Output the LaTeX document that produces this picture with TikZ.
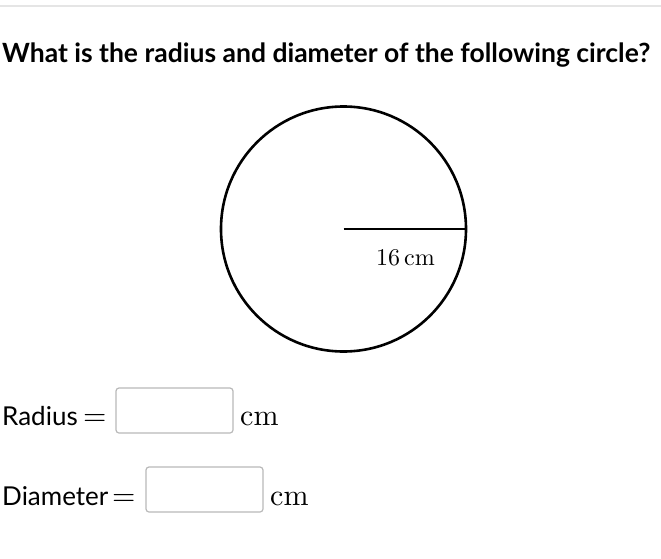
\documentclass[tikz,border=0pt]{standalone}
\usepackage{fontspec}
\newfontfamily\lato{Lato}
\newfontfamily\cmten{lmroman10-regular.otf}
\usetikzlibrary{positioning}

\tikzset{answerbox/.style={draw=gray!55, line width=1.2pt, rounded corners=3pt,
    minimum width=117pt, minimum height=45pt, inner sep=0pt},
  rowlabel/.style={anchor=base west, inner sep=0pt, font=\lato\fontsize{26}{31}\selectfont},
  rowmath/.style={anchor=base west, inner sep=0pt, font=\cmten\fontsize{30}{35}\selectfont}}

\begin{document}
\begin{tikzpicture}[x=1pt,y=-1pt]
\useasboundingbox (0,0) rectangle (661,559);
\draw[line width=2pt,gray!20] (0,6) -- (661,6);
\node[anchor=base west,inner sep=0pt,font=\lato\bfseries\fontsize{26.5}{31}\selectfont] (question) at (2,63)
  {What is the radius and diameter of the following circle?};
% circle and radius
\coordinate (centre) at (343.5,229);
\coordinate (edge) at (466,229);
\draw[line width=2.6pt] (centre) circle (122.5pt);
\draw[line width=2.6pt] (centre) -- (edge);
\node[font=\cmten\fontsize{24}{29}\selectfont] (len) at (405.5,258) {16\,cm};
% answer rows
\node[rowlabel] (radlbl) at (2,425) {Radius};
\node[rowmath] (radeq) at (83,425) {=};
\node[answerbox] (radbox) at (174.5,410.5) {};
\node[rowmath] (radunit) at (240,425) {cm};
\node[rowlabel] (diamlbl) at (2,505) {Diameter};
\node[rowmath] (diameq) at (112,505) {=};
\node[answerbox] (diambox) at (204.5,489.5) {};
\node[rowmath] (diamunit) at (270,505) {cm};
\end{tikzpicture}
\end{document}
